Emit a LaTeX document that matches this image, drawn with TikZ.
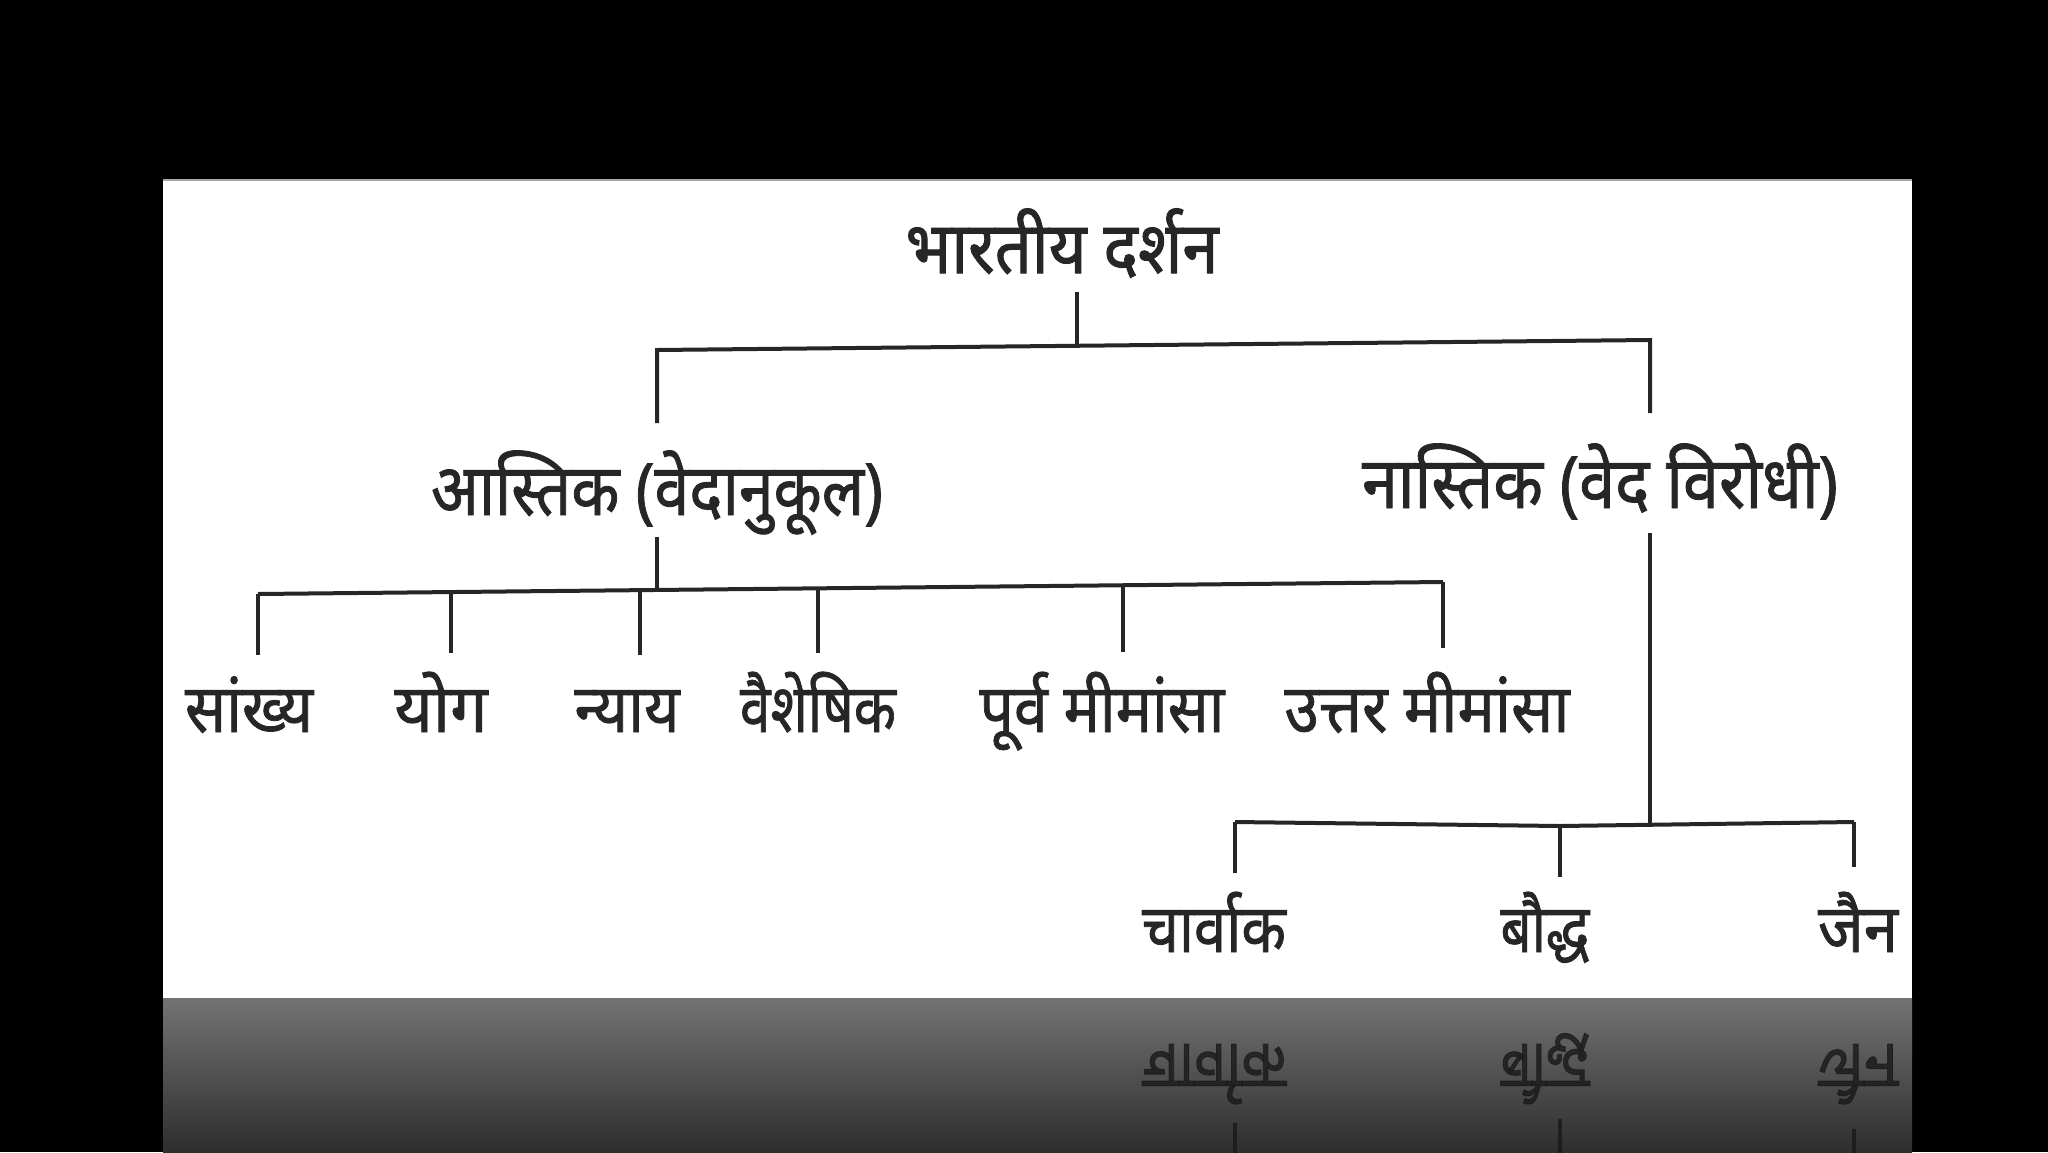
\documentclass[tikz,border=0pt]{standalone}
\usepackage{fontspec}
\usepackage{graphicx}
\newfontfamily\dev[Script=Devanagari,FakeBold=1.2]{Noto Sans}
\newfontfamily\devb[Script=Devanagari,FakeBold=1.5]{Noto Sans}
\newcommand\fitw[2]{\resizebox{#1pt}{1.2\height}{#2}}
\tikzset{
  edge/.style={line width=4pt, draw=black!85},
  lbl/.style={anchor=base, inner sep=0pt, text=black!85, font=\dev\fontsize{56}{60}\selectfont},
  toplbl/.style={lbl, font=\dev\fontsize{60}{64}\selectfont},
  rootlbl/.style={lbl, font=\devb\bfseries\fontsize{60}{64}\selectfont},
}
\begin{document}
\begin{tikzpicture}[x=1pt,y=-1pt]
\useasboundingbox (0,0) rectangle (2048,1152);
\fill[black] (0,0) rectangle (2048,1152);
% panel
\fill[white] (163,179) rectangle (1912,998);
\draw[black!35, line width=2pt] (163,180) -- (1912,180);
% reflection background
\shade[top color=black!55, bottom color=black!82] (163,998) rectangle (1912,1152);

% labels
\node[rootlbl] (root) at (1062,273) {\fitw{313}{भारतीय दर्शन}};
\node[toplbl] (astik) at (657,515) {\fitw{452}{आस्तिक (वेदानुकूल)}};
\node[toplbl] (nastik) at (1600,508) {\fitw{476}{नास्तिक (वेद विरोधी)}};
\node[lbl] (sankhya) at (249,732) {\fitw{128}{सांख्य}};
\node[lbl] (yog) at (441,732) {\fitw{93}{योग}};
\node[lbl] (nyay) at (627,732) {\fitw{105}{न्याय}};
\node[lbl] (vaish) at (818,732) {\fitw{156}{वैशेषिक}};
\node[lbl] (purva) at (1102,732) {\fitw{245}{पूर्व मीमांसा}};
\node[lbl] (uttar) at (1427,732) {\fitw{285}{उत्तर मीमांसा}};
\node[lbl] (charvak) at (1214,952) {\fitw{144}{चार्वाक}};
\node[lbl] (bauddh) at (1545,952) {\fitw{89}{बौद्ध}};
\node[lbl] (jain) at (1858,952) {\fitw{80}{जैन}};

% junction coordinates
\coordinate (r0) at (1077,292);
\coordinate (r1) at (1077,345);
\coordinate (tl) at (657,350);
\coordinate (tr) at (1650,340);
\coordinate (tlb) at (657,423);
\coordinate (trb) at (1650,413);
\coordinate (a0) at (657,537);
\coordinate (a1) at (657,590);
\coordinate (ml) at (258,594);
\coordinate (mr) at (1443,582);
\coordinate (n0) at (1650,533);
\coordinate (n1) at (1650,825);
\coordinate (bl) at (1235,822);
\coordinate (bm) at (1560,826);
\coordinate (br) at (1854,822);

\draw[edge] (r0) -- (r1);
\draw[edge] (tlb) -- (tl) -- (tr) -- (trb);
\draw[edge] (a0) -- (a1);
\draw[edge] (ml) -- (mr);
\foreach \x/\t/\b in {258/594/655, 451/592/653, 640/590/655, 818/589/653, 1123/585/652, 1443/582/648}
  \draw[edge] (\x,\t) -- (\x,\b);
\draw[edge] (n0) -- (n1);
\draw[edge] (bl) -- (bm) -- (br);
\draw[edge] (bl) -- (1235,873);
\draw[edge] (bm) -- (1560,877);
\draw[edge] (br) -- (1854,867);

% reflection
\begin{scope}
\clip (163,998) rectangle (1912,1152);
\begin{scope}[shift={(0,1996)}, yscale=-1, opacity=0.8]
\node[lbl, transform shape, text=black!90] (rcharvak) at (1214,952) {\fitw{144}{चार्वाक}};
\node[lbl, transform shape, text=black!90] (rbauddh) at (1545,952) {\fitw{89}{बौद्ध}};
\node[lbl, transform shape, text=black!90] (rjain) at (1858,952) {\fitw{80}{जैन}};
\draw[edge, draw=black!90] (1235,822) -- (1235,873);
\draw[edge, draw=black!90] (1560,826) -- (1560,877);
\draw[edge, draw=black!90] (1854,822) -- (1854,867);
\end{scope}
\end{scope}
\end{tikzpicture}
\end{document}
